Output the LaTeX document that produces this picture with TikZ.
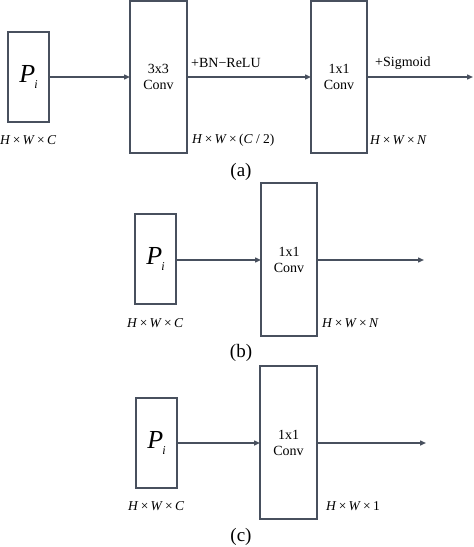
\documentclass[tikz,border=0pt]{standalone}
\usepackage{fontspec}
\setmainfont{Liberation Serif}
\usetikzlibrary{arrows.meta}
\definecolor{ln}{HTML}{48505E}
\tikzset{
  box/.style={draw=ln, line width=1.4pt, fill=white},
  conn/.style={draw=ln, line width=1.4pt, -{Triangle[length=6pt,width=5pt]}},
  lbl/.style={font=\fontsize{13.5}{14}\selectfont, inner sep=0pt},
  toplbl/.style={font=\fontsize{14}{15}\selectfont, inner sep=0pt},
  captxt/.style={font=\fontsize{19}{20}\selectfont, inner sep=0pt},
  inbox/.style={font=\fontsize{14}{16}\selectfont, align=center, inner sep=0pt},
}
\newcommand{\dimtxt}[3]{\textit{#1}\,×\,\textit{#2}\,×\,#3}
\newcommand{\pisym}{\fontsize{26}{28}\selectfont\textit{P}\kern-1pt\raisebox{-0.45ex}{\fontsize{12}{12}\selectfont\textit{i}}}
\begin{document}
\begin{tikzpicture}[x=1pt,y=-1pt]
\useasboundingbox (0,0) rectangle (474,547);
% ---------- (a)
\draw[box] (8,32) rectangle (49,122);
\node (pa) at (28.5,77) {\pisym};
\coordinate (paR) at (49,77);
\draw[box] (130,1) rectangle (187,153);
\node[inbox] (ca) at (158.5,77) {3x3\\Conv};
\coordinate (caL) at (130,77);
\coordinate (caR) at (187,77);
\draw[box] (311,1) rectangle (367,153);
\node[inbox] (da) at (339,77) {1x1\\Conv};
\coordinate (daL) at (311,77);
\coordinate (daR) at (367,77);
\coordinate (ea) at (473,77);
\draw[conn] (paR) -- (caL);
\draw[conn] (caR) -- (daL);
\draw[conn] (daR) -- (ea);
\node[toplbl, anchor=west] (bn) at (191,63) {+BN−ReLU};
\node[toplbl, anchor=west] (sg) at (375,63) {+Sigmoid};
\node[lbl, anchor=west] (la1) at (0,140) {\dimtxt{H}{W}{\textit{C}}};
\node[lbl, anchor=west] (la2) at (192,140) {\dimtxt{H}{W}{(\textit{C} / 2)}};
\node[lbl, anchor=west] (la3) at (370,140) {\dimtxt{H}{W}{\textit{N}}};
\node[captxt] (capa) at (241,172) {(a)};
% ---------- (b)
\draw[box] (135,214) rectangle (176,304);
\node (pb) at (155.5,259) {\pisym};
\coordinate (pbR) at (176,260);
\draw[box] (261,183) rectangle (317,336);
\node[inbox] (cb) at (289,260) {1x1\\Conv};
\coordinate (cbL) at (261,260);
\coordinate (cbR) at (317,260);
\coordinate (eb) at (424,260);
\draw[conn] (pbR) -- (cbL);
\draw[conn] (cbR) -- (eb);
\node[lbl, anchor=west] (lb1) at (127,323) {\dimtxt{H}{W}{\textit{C}}};
\node[lbl, anchor=west] (lb2) at (322,323) {\dimtxt{H}{W}{\textit{N}}};
\node[captxt] (capb) at (241,353) {(b)};
% ---------- (c)
\draw[box] (136,398) rectangle (177,488);
\node (pc) at (156.5,443) {\pisym};
\coordinate (pcR) at (177,443);
\draw[box] (260,366) rectangle (317,519);
\node[inbox] (cc) at (288.5,443) {1x1\\Conv};
\coordinate (ccL) at (260,443);
\coordinate (ccR) at (317,443);
\coordinate (ec) at (426,443);
\draw[conn] (pcR) -- (ccL);
\draw[conn] (ccR) -- (ec);
\node[lbl, anchor=west] (lc1) at (128,506) {\dimtxt{H}{W}{\textit{C}}};
\node[lbl, anchor=west] (lc2) at (326,506) {\dimtxt{H}{W}{1}};
\node[captxt] (capc) at (241,537) {(c)};
\end{tikzpicture}
\end{document}
